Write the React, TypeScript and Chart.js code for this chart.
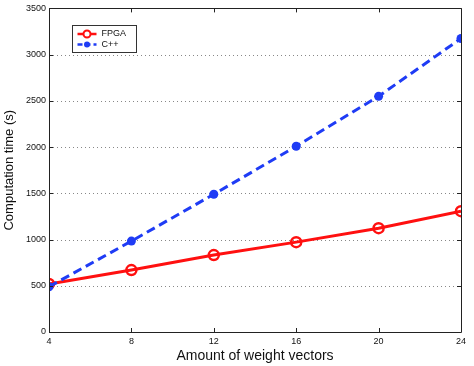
import React, { useEffect, useRef } from "react";
import { Chart, registerables } from "chart.js";

Chart.register(...registerables);

const xValues = [4, 8, 12, 16, 20, 24];
const fpgaValues = [520, 670, 832, 972, 1123, 1307];
const cppValues = [490, 983, 1490, 2009, 2549, 3175];
const seriesLabels = ["FPGA", "C++"];
const xTitle = "Amount of weight vectors";
const yTitle = "Computation time (s)";

const RED = "#ff1010";
const BLUE = "#1f3cf5";
const FONT = "'Liberation Sans', Arial, Helvetica, sans-serif";

const gridPlugin = {
  id: "dotgrid",
  beforeDatasetsDraw(chart: any) {
    const { ctx, chartArea } = chart;
    const { left, right } = chartArea;
    const ys = chart.scales.y;
    ctx.save();
    ctx.strokeStyle = "#888";
    ctx.lineWidth = 1;
    ctx.setLineDash([1, 3]);
    ctx.beginPath();
    ys.ticks.forEach((t: any) => {
      const py = Math.round(ys.getPixelForValue(t.value)) + 0.5;
      ctx.moveTo(left, py);
      ctx.lineTo(right, py);
    });
    ctx.stroke();
    ctx.restore();
  },
};

const framePlugin = {
  id: "frame",
  afterDraw(chart: any) {
    const { ctx, chartArea } = chart;
    const { left, right, top, bottom } = chartArea;
    ctx.save();
    ctx.strokeStyle = "#222";
    ctx.lineWidth = 1;
    ctx.beginPath();
    ctx.rect(Math.round(left) + 0.5, Math.round(top) + 0.5, Math.round(right - left), Math.round(bottom - top));
    ctx.stroke();
    const tl = 4;
    const xs = chart.scales.x;
    const ys = chart.scales.y;
    ctx.beginPath();
    xs.ticks.forEach((t: any) => {
      const px = Math.round(xs.getPixelForValue(t.value)) + 0.5;
      ctx.moveTo(px, bottom);
      ctx.lineTo(px, bottom - tl);
      ctx.moveTo(px, top);
      ctx.lineTo(px, top + tl);
    });
    ys.ticks.forEach((t: any) => {
      const py = Math.round(ys.getPixelForValue(t.value)) + 0.5;
      ctx.moveTo(left, py);
      ctx.lineTo(left + tl, py);
      ctx.moveTo(right, py);
      ctx.lineTo(right - tl, py);
    });
    ctx.stroke();

    // legend box
    const bx = 72.5, by = 25.5, bw = 64, bh = 27;
    ctx.fillStyle = "#fff";
    ctx.fillRect(bx, by, bw, bh);
    ctx.strokeStyle = "#333";
    ctx.strokeRect(bx, by, bw, bh);
    const entries = [
      { label: seriesLabels[0], color: RED, dash: [], filled: false, y: by + 8.5 },
      { label: seriesLabels[1], color: BLUE, dash: [5, 3], filled: true, y: by + 19 },
    ];
    entries.forEach((e) => {
      ctx.strokeStyle = e.color;
      ctx.lineWidth = 2.5;
      ctx.setLineDash(e.dash);
      ctx.beginPath();
      ctx.moveTo(bx + 5, e.y);
      ctx.lineTo(bx + 24, e.y);
      ctx.stroke();
      ctx.setLineDash([]);
      ctx.beginPath();
      if (e.filled) {
        ctx.fillStyle = e.color;
        ctx.arc(bx + 14.5, e.y, 3, 0, Math.PI * 2);
        ctx.fill();
      } else {
        ctx.lineWidth = 2;
        ctx.fillStyle = "#fff";
        ctx.arc(bx + 14.5, e.y, 3.5, 0, Math.PI * 2);
        ctx.fill();
        ctx.stroke();
      }
      ctx.fillStyle = "#111";
      ctx.font = `9px ${FONT}`;
      ctx.textBaseline = "middle";
      ctx.textAlign = "left";
      ctx.fillText(e.label, bx + 29, e.y);
    });
    ctx.restore();
  },
};

export default function App() {
  const ref = useRef<HTMLCanvasElement>(null);
  useEffect(() => {
    document.body.style.margin = "0";
    const canvas = ref.current!;
    const chart = new Chart(canvas, {
      type: "line",
      data: {
        datasets: [
          {
            label: seriesLabels[0],
            data: xValues.map((x, i) => ({ x, y: fpgaValues[i] })),
            borderColor: RED,
            backgroundColor: RED,
            borderWidth: 3,
            pointRadius: 5,
            pointBorderWidth: 2.5,
            pointBackgroundColor: "rgba(255,255,255,0)",
            pointBorderColor: RED,
            order: 1,
          },
          {
            label: seriesLabels[1],
            data: xValues.map((x, i) => ({ x, y: cppValues[i] })),
            borderColor: BLUE,
            backgroundColor: BLUE,
            borderWidth: 3,
            borderDash: [9, 5],
            pointRadius: 4.5,
            pointBorderWidth: 0,
            pointBackgroundColor: BLUE,
            order: 0,
          },
        ],
      },
      options: {
        animation: false,
        responsive: false,
        devicePixelRatio: 1,
        layout: { padding: { top: 8, right: 13, left: 0, bottom: 0 } },
        plugins: { legend: { display: false }, tooltip: { enabled: false } },
        scales: {
          x: {
            type: "linear",
            min: 4,
            max: 24,
            afterFit: (s: any) => {
              s.height = 34;
            },
            ticks: {
              stepSize: 4,
              color: "#111",
              font: { family: FONT, size: 9 },
              padding: 4,
              callback: (v: any) => String(v),
            },
            grid: { display: false, drawTicks: false },
            border: { display: false },
            title: {
              display: true,
              text: xTitle,
              color: "#111",
              font: { family: FONT, size: 14 },
              padding: { top: 0, bottom: 1 },
            },
          },
          y: {
            min: 0,
            max: 3500,
            afterFit: (s: any) => {
              s.width = 49;
            },
            ticks: {
              stepSize: 500,
              color: "#111",
              font: { family: FONT, size: 9 },
              padding: 3,
              callback: (v: any) => String(v),
            },
            grid: { display: false, drawTicks: false },
            border: { display: false },
            title: {
              display: true,
              text: yTitle,
              color: "#111",
              font: { family: FONT, size: 13 },
              padding: { top: 2, bottom: 0 },
            },
          },
        },
      },
      plugins: [gridPlugin, framePlugin],
    } as any);
    return () => chart.destroy();
  }, []);
  return <canvas ref={ref} width={474} height={366} style={{ display: "block" }} />;
}
